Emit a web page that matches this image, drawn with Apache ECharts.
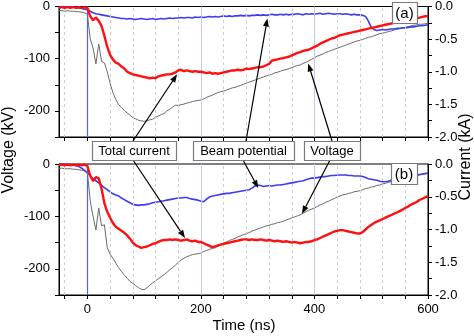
<!DOCTYPE html>
<html><head><meta charset="utf-8">
<script src="https://cdn.jsdelivr.net/npm/echarts@6/dist/echarts.min.js"></script>
<style>html,body{margin:0;padding:0;background:#fff}#c{width:474px;height:336px}</style>
</head><body><div id="c"></div>
<script>
// sample times (ns)
const time = [
 -50,-45,-40,-35,-30,-25,-20,-15,-10,-5,
 0,5,10,15,20,25,30,35,40,45,
 50,55,60,65,70,75,80,85,90,95,
 100,105,110,115,120,125,130,135,140,145,
 150,155,160,165,170,175,180,185,190,195,
 200,205,210,215,220,225,230,235,240,245,
 250,255,260,265,270,275,280,285,290,295,
 300,305,310,315,320,325,330,335,340,345,
 350,355,360,365,370,375,380,385,390,395,
 400,405,410,415,420,425,430,435,440,445,
 450,455,460,465,470,475,480,485,490,495,
 500,505,510,515,520,525,530,535,540,545,
 550,555,560,565,570,575,580,585,590,595,
 600];
// panel (a)
const voltageA = [
 -8,-8,-9,-8,-9,-9,-10,-10,-11,-12,
 -15,-62,-80,-110,-72,-105,-108,-125,-147,-165,
 -178,-188,-193,-199,-204,-208,-213,-215,-218,-219,
 -220,-219,-217,-216,-212,-210,-207,-205,-200,-197,
 -193,-189,-190,-188,-187,-185,-184,-182,-181,-180,
 -179,-177,-174,-172,-170,-167,-165,-163,-162,-160,
 -158,-156,-155,-153,-151,-149,-147,-145,-143,-141,
 -139,-137,-135,-133,-131,-130,-127,-126,-124,-122,
 -121,-119,-117,-115,-113,-112,-109,-107,-104,-101,
 -98,-95,-93,-91,-88,-86,-84,-82,-80,-78,
 -76,-74,-72,-70,-68,-66,-65,-63,-61,-59,
 -58,-56,-54,-52,-51,-50,-48,-47,-45,-44,
 -42,-41,-40,-39,-37,-36,-35,-34,-34,-33,
 -32];
const currentA = [
 -0.02,-0.01,-0.02,-0.01,-0.02,-0.01,-0.02,-0.01,-0.02,-0.01,
 -0.02,-0.15,-0.21,-0.17,-0.22,-0.30,-0.45,-0.62,-0.74,-0.81,
 -0.86,-0.88,-0.92,-0.95,-1.00,-1.02,-1.04,-1.05,-1.06,-1.07,
 -1.08,-1.09,-1.10,-1.09,-1.10,-1.07,-1.06,-1.05,-1.04,-1.04,
 -1.03,-1.01,-0.98,-0.97,-0.99,-0.98,-0.99,-1.00,-0.99,-1.00,
 -1.00,-1.01,-1.02,-1.01,-1.03,-1.02,-1.03,-1.02,-1.01,-1.00,
 -0.99,-0.98,-0.98,-0.97,-0.98,-0.97,-0.95,-0.96,-0.95,-0.94,
 -0.93,-0.93,-0.92,-0.90,-0.88,-0.83,-0.82,-0.81,-0.80,-0.79,
 -0.78,-0.77,-0.75,-0.73,-0.71,-0.70,-0.68,-0.67,-0.66,-0.64,
 -0.62,-0.60,-0.57,-0.55,-0.53,-0.51,-0.49,-0.48,-0.46,-0.44,
 -0.43,-0.42,-0.41,-0.40,-0.39,-0.38,-0.37,-0.36,-0.35,-0.34,
 -0.33,-0.32,-0.31,-0.30,-0.29,-0.28,-0.27,-0.26,-0.25,-0.24,
 -0.22,-0.21,-0.20,-0.20,-0.19,-0.18,-0.18,-0.17,-0.16,-0.15,
 -0.15];
const beamA = [
 0,0,0,0,-1,-1,-2,-3,-4,-5,
 -6,-9,-12,-14,-15,-16,-17,-18,-19,-20,
 -21,-22,-23,-23,-24,-23,-24,-25,-24,-23,
 -24,-25,-24,-23,-25,-24,-23,-24,-23,-22,
 -23,-22,-22,-21,-22,-21,-21,-22,-20,-21,
 -20,-21,-20,-19,-20,-19,-20,-19,-18,-19,
 -18,-19,-18,-18,-17,-18,-17,-18,-17,-17,
 -16,-17,-16,-17,-16,-15,-16,-16,-15,-16,
 -15,-16,-15,-15,-14,-15,-16,-14,-15,-14,
 -15,-14,-13,-15,-14,-13,-14,-15,-14,-14,
 -15,-14,-15,-16,-15,-16,-16,-17,-19,-28,
 -40,-44,-46,-45,-44,-45,-44,-43,-43,-42,
 -42,-41,-41,-40,-39,-39,-38,-37,-37,-36,
 -35];
// panel (b)
const voltageB = [
 -8,-8,-9,-9,-9,-10,-10,-11,-12,-13,
 -17,-70,-100,-126,-84,-118,-116,-160,-172,-180,
 -189,-198,-205,-212,-218,-224,-228,-232,-236,-239,
 -240,-236,-231,-227,-223,-219,-215,-211,-207,-202,
 -198,-193,-188,-183,-180,-177,-175,-173,-172,-171,
 -170,-167,-165,-163,-161,-160,-157,-154,-151,-149,
 -146,-144,-142,-139,-137,-135,-133,-131,-128,-126,
 -124,-122,-120,-118,-117,-115,-114,-112,-111,-109,
 -107,-105,-103,-101,-99,-97,-94,-91,-88,-86,
 -84,-81,-78,-76,-73,-71,-68,-66,-63,-61,
 -59,-58,-56,-55,-53,-52,-51,-49,-47,-46,
 -44,-43,-41,-40,-38,-37,-35,-34,-32,-30,
 -29,-28,-27,-26,-24,-23,-22,-21,-20,-19,
 -18];
const currentB = [
 -0.02,-0.01,-0.02,-0.01,-0.02,-0.01,-0.02,-0.01,-0.02,-0.01,
 -0.03,-0.18,-0.26,-0.20,-0.22,-0.38,-0.60,-0.73,-0.82,-0.90,
 -0.96,-0.99,-1.02,-1.05,-1.09,-1.14,-1.20,-1.24,-1.26,-1.28,
 -1.27,-1.26,-1.24,-1.22,-1.21,-1.19,-1.17,-1.16,-1.16,-1.15,
 -1.16,-1.15,-1.16,-1.17,-1.16,-1.15,-1.17,-1.18,-1.17,-1.19,
 -1.19,-1.21,-1.23,-1.25,-1.27,-1.26,-1.24,-1.23,-1.22,-1.21,
 -1.20,-1.19,-1.18,-1.17,-1.16,-1.15,-1.15,-1.16,-1.15,-1.16,
 -1.16,-1.15,-1.16,-1.17,-1.16,-1.17,-1.18,-1.17,-1.18,-1.19,
 -1.18,-1.19,-1.20,-1.19,-1.20,-1.21,-1.20,-1.19,-1.19,-1.18,
 -1.16,-1.15,-1.13,-1.11,-1.09,-1.07,-1.05,-1.03,-1.02,-1.01,
 -1.01,-1.02,-1.03,-1.04,-1.05,-1.06,-1.06,-1.04,-1.00,-0.96,
 -0.93,-0.90,-0.88,-0.86,-0.84,-0.82,-0.80,-0.78,-0.76,-0.74,
 -0.72,-0.70,-0.67,-0.65,-0.62,-0.60,-0.58,-0.55,-0.53,-0.51,
 -0.49];
const beamB = [
 0,0,0,0,-1,-2,-3,-5,-8,-12,
 -17,-22,-28,-32,-36,-41,-45,-49,-53,-57,
 -59,-61,-65,-68,-71,-74,-77,-78,-79,-78,
 -78,-77,-76,-74,-73,-72,-71,-70,-69,-68,
 -67,-66,-65,-65,-64,-64,-66,-67,-68,-69,
 -71,-72,-67,-63,-61,-60,-59,-58,-57,-56,
 -56,-55,-54,-53,-52,-51,-50,-49,-46,-42,
 -40,-41,-43,-42,-41,-42,-41,-40,-40,-39,
 -38,-37,-36,-35,-34,-33,-32,-30,-28,-27,
 -27,-26,-25,-24,-24,-23,-22,-22,-21,-21,
 -21,-21,-22,-22,-23,-23,-23,-24,-26,-28,
 -29,-30,-31,-33,-34,-34,-33,-31,-29,-28,
 -27,-26,-25,-24,-23,-22,-21,-20,-19,-18,
 -17];
// axis ticks / labels
const xTickTimes = [-40,0,40,80,120,160,200,240,280,320,360,400,440,480,520,560,600];
const xLabelTimes = [0,200,400,600];
const minorGridTimes = [-40,40,80,120,160,240,280,320,360,440,480,520,560];
const majorGridTimes = [200,400];
const zeroTimes = [0];
const panelTags = ['(a)','(b)'];
const boxLabels = ['Total current','Beam potential','Voltage'];
// arrow targets: [box index, panel, axis ('V' or 'I'), time, value]
const arrowTargets = [
 [0,0,'I',158,-1.04],
 [0,1,'I',172,-1.13],
 [1,0,'V',317,-23],
 [1,1,'V',301,-46],
 [2,0,'V',389,-109],
 [2,1,'V',378,-95]
];

const FONT = 'Liberation Sans, Arial, sans-serif';
const G = [{left:59, top:6, width:369, height:131},{left:59, top:164, width:369, height:131}];
const chart = echarts.init(document.getElementById('c'), null, {renderer:'canvas'});
const pair = arr => time.map((t,i)=>[t, arr[i]]);

function xAx(i, showLabel){
  return {gridIndex:i, type:'value', min:-50, max:600,
    axisLine:{show:true, onZero:false, lineStyle:{color:'#000', width:1}},
    axisTick:{show:true, customValues:xTickTimes, length:4, lineStyle:{color:'#000'}},
    axisLabel:{show:showLabel, customValues:xLabelTimes, color:'#000', fontSize:13, fontFamily:FONT, margin:8},
    splitLine:{show:false}};
}
function yLeft(i){
  return {gridIndex:i, type:'value', min:-250, max:0, interval:50, position:'left',
    axisLine:{show:true, onZero:false, lineStyle:{color:'#000'}},
    axisTick:{show:true, length:4, lineStyle:{color:'#000'}},
    axisLabel:{color:'#000', fontSize:13, fontFamily:FONT, margin:9,
      formatter:v => (v % 100 === 0 ? String(v) : '')},
    splitLine:{show:false}};
}
function yRight(i){
  return {gridIndex:i, type:'value', min:-2, max:0, interval:0.25, position:'right',
    axisLine:{show:true, onZero:false, lineStyle:{color:'#000'}},
    axisTick:{show:true, length:4, lineStyle:{color:'#000'}},
    axisLabel:{color:'#000', fontSize:13, fontFamily:FONT, margin:7,
      formatter:v => (Math.abs(v*2 - Math.round(v*2)) < 1e-6 ? v.toFixed(1) : '')},
    splitLine:{show:false}};
}
function gridSeries(i){
  const d = [];
  minorGridTimes.forEach(t=>d.push({xAxis:t, lineStyle:{color:'#cfcfcf', type:[3,3], width:1}}));
  majorGridTimes.forEach(t=>d.push({xAxis:t, lineStyle:{color:'#c4c8ee', type:'solid', width:1}}));
  zeroTimes.forEach(t=>d.push({xAxis:t, lineStyle:{color:'#4f63ff', type:'solid', width:1.2}}));
  return {type:'line', xAxisIndex:i, yAxisIndex:2*i, data:[], silent:true, z:1,
    markLine:{silent:true, symbol:'none', label:{show:false}, animation:false, data:d}};
}
function trace(i, yIdx, arr, color, w, z){
  return {type:'line', xAxisIndex:i, yAxisIndex:yIdx, data:pair(arr), showSymbol:false, symbol:'none',
    lineStyle:{color:color, width:w}, itemStyle:{color:color}, z:z, animation:false, clip:true};
}
const GRAY='#6a6a6a', BLUE='#3c3cf2', RED='#ff0f0f';
chart.setOption({
  animation:false,
  grid:G.map(g=>Object.assign({show:true, borderColor:'#000', borderWidth:1, backgroundColor:'#fff'}, g)),
  xAxis:[xAx(0,false), xAx(1,true)],
  yAxis:[yLeft(0), yRight(0), yLeft(1), yRight(1)],
  series:[
    gridSeries(0), gridSeries(1),
    trace(0,0,voltageA,GRAY,1,3), trace(0,0,beamA,BLUE,1.6,4), trace(0,1,currentA,RED,2.4,5),
    trace(1,2,voltageB,GRAY,1,3), trace(1,2,beamB,BLUE,1.6,4), trace(1,3,currentB,RED,2.4,5)
  ]
});

// annotations
const boxes = [{x:92,w:84},{x:193,w:101},{x:304,w:56}];
const boxY = 141, boxH = 19;
const tagBoxes = [{x:392,y:2,w:25,h:21},{x:391,y:163,w:26,h:21}];
const tailX = [133,133,246,243,332,330];
const els = [];
arrowTargets.forEach((a,k)=>{
  const [bi, p, ax, t, v] = a;
  const yIdx = 2*p + (ax==='I'?1:0);
  const tip = chart.convertToPixel({xAxisIndex:p, yAxisIndex:yIdx}, [t, v]);
  const x1 = tailX[k], y1 = p===0 ? boxY : boxY+boxH;
  const ang = Math.atan2(tip[1]-y1, tip[0]-x1);
  const L = 8, W = 3;
  const bx = tip[0]-L*Math.cos(ang), by = tip[1]-L*Math.sin(ang);
  const px = -Math.sin(ang)*W, py = Math.cos(ang)*W;
  els.push({type:'line', shape:{x1:x1,y1:y1,x2:bx,y2:by}, style:{stroke:'#000', lineWidth:1.2}, z:50});
  els.push({type:'polygon', shape:{points:[[tip[0],tip[1]],[bx+px,by+py],[bx-px,by-py]]}, style:{fill:'#000'}, z:50});
});
boxLabels.forEach((txt,i)=>{
  const b = boxes[i];
  els.push({type:'rect', shape:{x:b.x+0.5,y:boxY+0.5,width:b.w,height:boxH}, style:{fill:'#fff', stroke:'#7a7a7a', lineWidth:1.2}, z:60});
  els.push({type:'text', x:b.x+b.w/2, y:boxY+boxH/2+1, style:{text:txt, fill:'#000', font:'13px '+FONT, align:'center', verticalAlign:'middle'}, z:61});
});
panelTags.forEach((txt,i)=>{
  const b = tagBoxes[i];
  els.push({type:'rect', shape:{x:b.x+0.5,y:b.y+0.5,width:b.w,height:b.h}, style:{fill:'#fff', stroke:'#7a7a7a', lineWidth:1.2}, z:60});
  els.push({type:'text', x:b.x+b.w/2, y:b.y+b.h/2+1, style:{text:txt, fill:'#000', font:'15px '+FONT, align:'center', verticalAlign:'middle'}, z:61});
});
els.push({type:'text', x:9, y:150, rotation:Math.PI/2, style:{text:'Voltage (kV)', fill:'#000', font:'16px '+FONT, align:'center', verticalAlign:'middle'}, z:61});
els.push({type:'text', x:466, y:157, rotation:Math.PI/2, style:{text:'Current (kA)', fill:'#000', font:'16px '+FONT, align:'center', verticalAlign:'middle'}, z:61});
els.push({type:'text', x:244, y:326, style:{text:'Time (ns)', fill:'#000', font:'15px '+FONT, align:'center', verticalAlign:'middle'}, z:61});
chart.setOption({graphic:{elements:els}});
</script></body></html>
